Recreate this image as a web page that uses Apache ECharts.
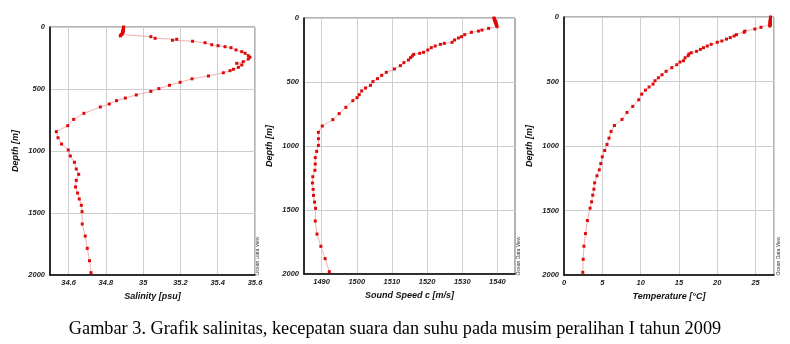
<!DOCTYPE html>
<html>
<head>
<meta charset="utf-8">
<script src="https://cdn.jsdelivr.net/npm/echarts@6/dist/echarts.min.js"></script>
<style>html,body{margin:0;padding:0;background:#fff}#c{width:790px;height:344px}</style>
</head>
<body>
<div id="c"></div>
<script>
// ---- Data ----
const salDepth = [0,5,10,15,20,25,30,35,40,45,50,55,60,65,72,78,91,99,107,115,127,143,151,159,167,185,199,212,231,244,258,280,293,306,325,341,352,369,395,418,446,470,497,519,548,573,594,621,645,696,745,796,844,893,944,992,1040,1091,1145,1188,1237,1290,1339,1387,1438,1489,1589,1686,1785,1885,1981];
const salValues = [34.895,34.895,34.894,34.894,34.893,34.893,34.892,34.892,34.891,34.890,34.889,34.887,34.884,34.880,34.877,35.041,35.064,35.180,35.157,35.265,35.332,35.368,35.402,35.439,35.471,35.498,35.529,35.547,35.564,35.573,35.564,35.537,35.502,35.529,35.511,35.484,35.466,35.430,35.350,35.262,35.198,35.141,35.084,35.041,34.963,34.904,34.857,34.818,34.770,34.682,34.627,34.595,34.534,34.543,34.562,34.598,34.609,34.631,34.641,34.654,34.641,34.637,34.648,34.657,34.668,34.672,34.673,34.689,34.700,34.712,34.720];

const ssDepth = [0,5,10,15,20,25,30,35,40,45,50,55,60,68,81,94,102,112,130,146,156,172,190,198,206,219,232,250,268,276,284,297,310,328,349,372,398,424,448,474,497,526,547,570,599,622,646,698,747,794,844,893,943,995,1042,1091,1141,1190,1240,1289,1339,1386,1438,1487,1586,1688,1784,1880,1982];
const ssValues = [1539.0,1539.1,1539.15,1539.2,1539.3,1539.35,1539.4,1539.5,1539.55,1539.6,1539.7,1539.75,1539.8,1539.9,1537.5,1535.6,1534.6,1532.6,1530.7,1529.8,1528.9,1527.8,1527.1,1524.9,1523.8,1522.3,1521.2,1520.2,1519.0,1517.9,1516.2,1515.8,1515.3,1514.7,1513.4,1512.4,1510.7,1508.4,1507.1,1505.9,1504.6,1503.9,1502.5,1501.4,1500.7,1500.1,1498.9,1496.9,1495.0,1493.2,1490.2,1489.1,1489.1,1489.1,1488.6,1488.2,1488.2,1488.1,1487.5,1487.4,1487.6,1487.7,1488.0,1488.3,1488.2,1488.7,1489.8,1491.0,1492.2];

const tDepth = [0,5,10,15,20,25,30,35,40,45,50,55,60,65,70,80,93,109,119,137,147,160,171,186,196,212,225,238,251,266,277,287,300,316,339,349,370,393,421,448,471,494,520,543,567,598,642,693,740,794,841,887,939,988,1035,1084,1136,1185,1231,1286,1335,1381,1433,1482,1578,1679,1777,1878,1979];
const tValues = [26.94,26.94,26.94,26.93,26.93,26.92,26.92,26.91,26.91,26.90,26.90,26.89,26.88,26.87,26.86,25.7,24.9,23.6,23.5,22.5,22.2,21.7,21.2,20.6,20.0,19.2,18.7,18.2,17.8,17.3,16.6,16.3,16.2,15.8,15.59,15.14,14.71,14.06,13.32,12.79,12.32,11.88,11.62,11.10,10.63,10.14,9.75,8.97,8.22,7.57,6.58,6.14,5.87,5.61,5.31,5.0,4.8,4.6,4.3,4.0,3.9,3.75,3.6,3.4,3.05,2.8,2.6,2.5,2.45];

const depthTicks = [0,500,1000,1500,2000];
const salTicks = [34.6,34.8,35.0,35.2,35.4,35.6];
const ssTicks = [1490,1500,1510,1520,1530,1540];
const xNames = ['Salinity [psu]','Sound Speed c [m/s]','Temperature [°C]'];
const yName = 'Depth [m]';
const caption = 'Gambar 3. Grafik salinitas, kecepatan suara dan suhu pada musim peralihan I tahun 2009';
const credit = 'Ocean Data View';

// ---- Chart ----
const FONT = '"Liberation Sans", Arial, sans-serif';
const plain = v => String(Math.round(v * 10) / 10);
const lblStyle = {fontFamily: FONT, fontSize: 7.5, fontStyle: 'italic', fontWeight: 'bold', color: '#222', formatter: plain};
const nameStyle = {fontFamily: FONT, fontSize: 9, fontStyle: 'italic', fontWeight: 'bold', color: '#111'};

const grids = [
  {left: 50, top: 27, width: 205, height: 248},
  {left: 304, top: 18, width: 211, height: 256},
  {left: 564, top: 17, width: 210, height: 258}
].map(g => Object.assign({show: true, borderColor: '#666', borderWidth: 1, backgroundColor: 'transparent'}, g));

function xAxis(i, extra) {
  return Object.assign({
    type: 'value', gridIndex: i, name: xNames[i], nameLocation: 'middle', nameGap: 12,
    nameTextStyle: nameStyle,
    axisLine: {show: true, onZero: false, lineStyle: {color: '#000', width: 1.5}},
    axisTick: {show: false},
    axisLabel: Object.assign({margin: 4}, lblStyle),
    splitLine: {show: true, lineStyle: {color: '#cfcfcf', width: 1}}
  }, extra);
}
function yAxis(i) {
  return {
    type: 'value', gridIndex: i, inverse: true, min: 0, max: 2000, interval: 500,
    name: yName, nameLocation: 'middle', nameGap: 30, nameRotate: 90,
    nameTextStyle: nameStyle,
    axisLine: {show: true, onZero: false, lineStyle: {color: '#000', width: 1.5}},
    axisTick: {show: false, customValues: depthTicks},
    axisLabel: Object.assign({margin: 5, customValues: depthTicks}, lblStyle),
    splitLine: {show: true, lineStyle: {color: '#cfcfcf', width: 1}}
  };
}

const xAxes = [
  xAxis(0, {min: 34.5, max: 35.6,
    axisTick: {show: false, customValues: salTicks},
    axisLabel: Object.assign({margin: 4, customValues: salTicks}, lblStyle)}),
  xAxis(1, {min: 1485, max: 1545,
    axisTick: {show: false, customValues: ssTicks},
    axisLabel: Object.assign({margin: 4, customValues: ssTicks}, lblStyle)}),
  xAxis(2, {min: 0, max: 27.4, interval: 5,
    axisLabel: Object.assign({margin: 4, showMaxLabel: false}, lblStyle)})
];

function mk(vals, depths) { return vals.map((v, k) => [v, depths[k]]); }
function series(i, vals, depths) {
  return {
    type: 'line', xAxisIndex: i, yAxisIndex: i, data: mk(vals, depths),
    symbol: 'rect', symbolSize: 3, showSymbol: true, animation: false,
    lineStyle: {color: '#f2a6a6', width: 0.9},
    itemStyle: {color: '#dd0a0a'}
  };
}

const chart = echarts.init(document.getElementById('c'), null, {renderer: 'canvas'});
chart.setOption({
  animation: false,
  backgroundColor: '#fff',
  title: {text: caption, left: 'center', top: 320, padding: 0,
    textStyle: {fontFamily: '"Liberation Serif", "Times New Roman", serif', fontSize: 18.3, fontWeight: 'normal', color: '#000'}},
  grid: grids,
  xAxis: xAxes,
  yAxis: [yAxis(0), yAxis(1), yAxis(2)],
  series: [series(0, salValues, salDepth), series(1, ssValues, ssDepth), series(2, tValues, tDepth)],
  graphic: [258, 519, 779].map(x => ({
    type: 'text', x: x, y: 256, rotation: Math.PI / 2,
    style: {text: credit, fontSize: 5, fontFamily: FONT, fill: '#333', align: 'center', verticalAlign: 'middle'}
  }))
});
</script>
</body>
</html>
